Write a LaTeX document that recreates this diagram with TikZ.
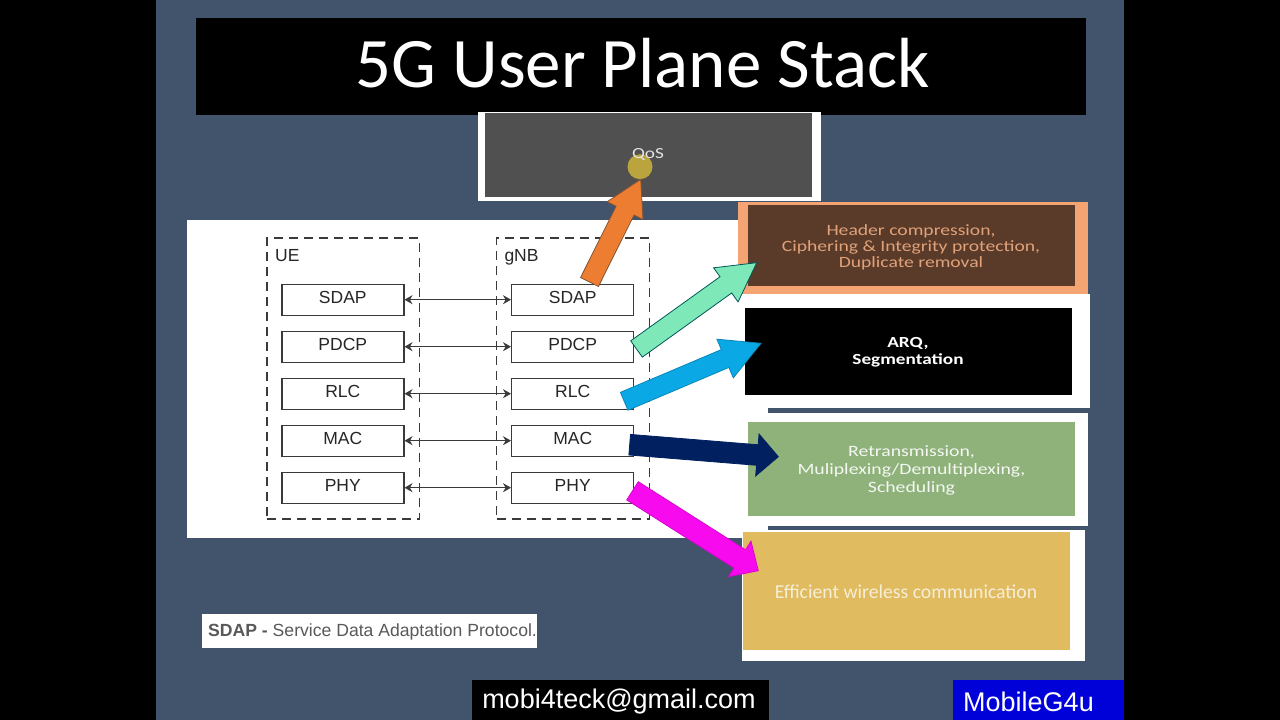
\documentclass[tikz,border=0pt]{standalone}
\usepackage{fontspec}
\setmainfont{Liberation Sans}
\newfontfamily\titlefont{Carlito}
\newfontfamily\widefont[FakeStretch=1.25]{Carlito}
\usetikzlibrary{calc,arrows.meta}
\definecolor{panelc}{HTML}{41546B}
\definecolor{qosc}{HTML}{505050}
\definecolor{dotc}{HTML}{B9A43E}
\definecolor{peachc}{HTML}{F4A373}
\definecolor{brownc}{HTML}{5A3A28}
\definecolor{brtext}{HTML}{E0A27A}
\definecolor{greenc}{HTML}{8FB27B}
\definecolor{yellowc}{HTML}{E0BB60}
\definecolor{bluec}{HTML}{0000D8}
\definecolor{orangec}{HTML}{ED7D31}
\definecolor{mintc}{HTML}{7FE8B8}
\definecolor{skyc}{HTML}{0BA8E6}
\definecolor{navyc}{HTML}{002060}
\definecolor{magc}{HTML}{F80AEF}
\definecolor{notec}{HTML}{595959}
\definecolor{linec}{HTML}{3A3A3A}
\tikzset{
  panelbox/.style={anchor=north west,inner sep=0pt,outer sep=0pt,draw=none},
  stackbox/.style={draw=linec,line width=1.4pt,fill=white,inner sep=0pt,
    minimum width=122pt,minimum height=31pt,font=\fontsize{17.5}{20}\selectfont,
    text=black!85,text height=12pt,text depth=4pt},
  groupbox/.style={draw=linec,line width=1.4pt,dash pattern=on 9pt off 6pt,anchor=north west,inner sep=0pt},
  peerlink/.style={draw=linec,line width=1.2pt,{Stealth[length=8pt,width=9pt]}-{Stealth[length=8pt,width=9pt]}},
  stacklabel/.style={inner sep=0pt,font=\fontsize{17.5}{20}\selectfont,text=black!85,anchor=base west},
  funclabel/.style={inner sep=0pt,align=center,font=\widefont\fontsize{15.7}{16.3}\selectfont},
}
% block arrow between two named coordinates
\newcommand{\blockarrow}[7]{%
  \coordinate (#1b) at ($(#2)!#5pt!(#1)$);
  \draw[fill=#6,draw=#7,line width=0.8pt,line join=miter]
    ($(#1)!#3pt!90:(#2)$) -- ($(#1b)!#3pt!90:(#2)$) -- ($(#1b)!#4pt!90:(#2)$) -- (#2)
    -- ($(#1b)!#4pt!-90:(#2)$) -- ($(#1b)!#3pt!-90:(#2)$) -- ($(#1)!#3pt!-90:(#2)$) -- cycle;
}
\begin{document}
\begin{tikzpicture}[x=1pt,y=-1pt]
\useasboundingbox (0,0) rectangle (1280,720);
\fill[black] (0,0) rectangle (1280,720);
\fill[panelc] (156,0) rectangle (1124,720);
% title
\node[panelbox,fill=black,minimum width=890pt,minimum height=97pt] (title) at (196,18) {};
\node[text=white,font=\titlefont\fontsize{71}{75}\selectfont,inner sep=0pt] (titletext) at (642.5,63) {5G User Plane Stack};
% QoS
\node[panelbox,fill=white,minimum width=343pt,minimum height=89pt] (qosframe) at (477.5,112) {};
\node[panelbox,fill=qosc,minimum width=327pt,minimum height=83.5pt] (qosbox) at (484.7,113.3) {};
\node[circle,fill=dotc,minimum size=25pt,inner sep=0pt] (qosdot) at (640,166.7) {};
\node[text=white!90!black,inner sep=0pt,font=\widefont\fontsize{15.4}{16}\selectfont] (qostext) at (648,155) {QoS};
% diagram background
\node[panelbox,fill=white,minimum width=581pt,minimum height=318.5pt] (diagram) at (187.3,219.8) {};
% function boxes
\node[panelbox,fill=white,minimum width=352pt,minimum height=114pt] (arqframe) at (738,294) {};
\node[panelbox,fill=white,minimum width=340pt,minimum height=113pt] (retxframe) at (748,413) {};
\node[panelbox,fill=peachc,minimum width=350pt,minimum height=92.6pt] (hdrframe) at (738,201.7) {};
\node[panelbox,fill=brownc,minimum width=327pt,minimum height=81pt] (hdrbox) at (748,205) {};
\node[funclabel,text=brtext] (hdrtext) at (911,247.5) {Header compression,\\Ciphering \& Integrity protection,\\Duplicate removal};
\node[panelbox,fill=black,minimum width=326.7pt,minimum height=87.3pt] (arqbox) at (745,307.7) {};
\node[funclabel,text=white,font=\widefont\bfseries\fontsize{15.4}{17.5}\selectfont] (arqtext) at (908,352.5) {ARQ,\\Segmentation};
\node[panelbox,fill=greenc,minimum width=326.7pt,minimum height=93.4pt] (retxbox) at (748,422.3) {};
\node[funclabel,text=white!90!greenc,font=\widefont\fontsize{15.8}{18.3}\selectfont] (retxtext) at (911.5,470.5) {Retransmission,\\Muliplexing/Demultiplexing,\\Scheduling};
\node[panelbox,fill=white,minimum width=343pt,minimum height=131pt] (phyframe) at (742,530) {};
\node[panelbox,fill=yellowc,minimum width=327pt,minimum height=118.3pt] (phybox) at (743.3,531.7) {};
\node[funclabel,text=white!75!yellowc,font=\titlefont\fontsize{19.7}{21}\selectfont] (phytext) at (906,591.5) {Efficient wireless communication};
% groups
\node[groupbox,minimum width=152.5pt,minimum height=281pt] (uegroup) at (266.3,237.3) {};
\node[groupbox,minimum width=153pt,minimum height=281pt] (gnbgroup) at (496,237.3) {};
\node[stacklabel] (uelabel) at (275,261) {UE};
\node[stacklabel] (gnblabel) at (504.3,261) {gNB};
% stacks
\node[stackbox] (ue1) at (342.8,299.7) {SDAP};
\node[stackbox] (ue2) at (342.8,346.7) {PDCP};
\node[stackbox] (ue3) at (342.8,393.7) {RLC};
\node[stackbox] (ue4) at (342.8,440.7) {MAC};
\node[stackbox] (ue5) at (342.8,487.7) {PHY};
\node[stackbox] (gn1) at (572.7,299.7) {SDAP};
\node[stackbox] (gn2) at (572.7,346.7) {PDCP};
\node[stackbox] (gn3) at (572.7,393.7) {RLC};
\node[stackbox] (gn4) at (572.7,440.7) {MAC};
\node[stackbox] (gn5) at (572.7,487.7) {PHY};
\foreach \i in {1,...,5} { \draw[peerlink] (ue\i.east) -- (gn\i.west); }
% block arrows
\coordinate (oa) at (589.5,282);   \coordinate (ot) at (640.7,179.3);
\coordinate (ma) at (636.5,349);   \coordinate (mt) at (756.7,262.7);
\coordinate (sa) at (624.2,401.3); \coordinate (st) at (761,343.3);
\coordinate (na) at (629.7,444.7); \coordinate (nt) at (778.3,456.7);
\coordinate (pa) at (632.5,490.8); \coordinate (pt) at (758.3,570.7);
\blockarrow{oa}{ot}{10}{20}{35}{orangec}{linec!60!orangec}
\blockarrow{ma}{mt}{10}{21}{38}{mintc}{teal!70!black}
\blockarrow{sa}{st}{9.7}{21}{39}{skyc}{skyc!80!black}
\blockarrow{na}{nt}{10.3}{21}{21}{navyc}{navyc}
\blockarrow{pa}{pt}{10.8}{21}{22}{magc}{magc!85!black}
% note
\node[panelbox,fill=white,minimum width=334.7pt,minimum height=34pt] (notebox) at (202,614) {};
\node[inner sep=0pt,anchor=base west,text=notec,font=\fontsize{17.6}{20}\selectfont] (notetext) at (208,636) {\textbf{SDAP -} Service Data Adaptation Protocol.};
% footer
\node[panelbox,fill=black,minimum width=297pt,minimum height=40pt] (mailbox) at (472,680) {};
\node[text=white,inner sep=0pt,font=\fontsize{27}{30}\selectfont] (mailtext) at (619,702) {mobi4teck@gmail.com};
\node[panelbox,fill=bluec,minimum width=171pt,minimum height=40pt] (brandbox) at (953,680) {};
\node[text=white,inner sep=0pt,font=\fontsize{27}{30}\selectfont] (brandtext) at (1028.5,702) {MobileG4u};
\end{tikzpicture}
\end{document}
